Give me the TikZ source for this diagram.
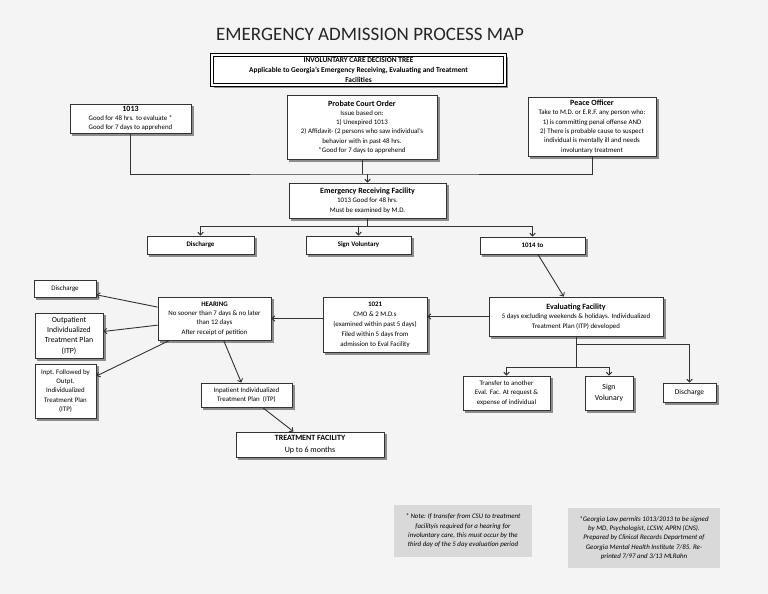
\documentclass[tikz,border=0pt]{standalone}
\usepackage{fontspec}
\setmainfont{Carlito}
\usetikzlibrary{arrows.meta}
\definecolor{pagebg}{HTML}{F4F4F4}
\definecolor{notegray}{HTML}{D9D9D9}
\definecolor{boxline}{HTML}{333333}
\definecolor{shadegray}{HTML}{8C8C8C}
\pgfdeclarelayer{paper}
\pgfdeclarelayer{shade}
\pgfsetlayers{paper,shade,main}
\newcommand{\boxtxt}{\fontsize{6.9}{9.3}\selectfont}
\newcommand{\boxhead}{\fontsize{8}{9.3}\selectfont\bfseries}
\begin{document}
\begin{tikzpicture}[x=1pt,y=-1pt,
  box/.style={draw=boxline, line width=0.9pt, fill=white, align=center, inner sep=1pt, font=\boxtxt},
  note/.style={fill=notegray, align=center, inner sep=1pt, font=\boxtxt\itshape},
  link/.style={draw=boxline, line width=0.9pt},
  arr/.style={link, -{Straight Barb[length=2.8pt,width=5.5pt]}}]
%% The page is a light grey sheet, the same size as the reference
  \begin{pgfonlayer}{paper}
    \fill[pagebg] (0,0) rectangle (768,594);
  \end{pgfonlayer}
  \useasboundingbox (0,0) rectangle (768,594);
%% Title and the framed heading under it
  \node[text=black!85] (title) at (370,34) {\fontsize{19}{22}\selectfont EMERGENCY ADMISSION PROCESS MAP};
  \node[box, draw=black, line width=0.8pt, double=white, double distance=1.6pt, minimum width=293pt, minimum height=30pt,
    font=\fontsize{7.4}{10.2}\selectfont\bfseries] (tree) at (358.5,70)
    {INVOLUNTARY CARE DECISION TREE\\Applicable to Georgia’s Emergency Receiving, Evaluating and Treatment\\Facilities};
%% The three ways in
  \node[box, minimum width=121pt, minimum height=29pt] (n1013) at (130.5,118.5)
    {{\boxhead 1013}\\Good for 48 hrs. to evaluate *\\Good for 7 days to apprehend};
  \node[box, minimum width=150pt, minimum height=64pt] (probate) at (362,127)
    {{\boxhead Probate Court Order}\\Issue based on:\\1) Unexpired 1013\\2) Affidavit- (2 persons who saw individual’s\\behavior with in past 48 hrs.\\*Good for 7 days to apprehend};
  \node[box, minimum width=128pt, minimum height=59pt] (peace) at (592,126.5)
    {{\boxhead Peace Officer}\\Take to M.D. or E.R.F. any person who:\\1) is committing penal offense AND\\2) There is probable cause to suspect\\individual is mentally ill and needs\\involuntary treatment};
%% Emergency receiving facility and its three outcomes
  \node[box, minimum width=157pt, minimum height=35pt] (erf) at (367.5,200.5)
    {{\boxhead Emergency Receiving Facility}\\1013 Good for 48 hrs.\\Must be examined by M.D.};
  \node[box, minimum width=107pt, minimum height=18pt] (disch1) at (200.5,245) {\textbf{Discharge}};
  \node[box, minimum width=105pt, minimum height=18pt] (signv) at (358.5,245) {\textbf{Sign Voluntary}};
  \node[box, minimum width=105pt, minimum height=17pt] (n1014) at (532.5,245.5) {\textbf{1014 to}};
%% Evaluating facility, petition and hearing
  \node[box, minimum width=174pt, minimum height=39pt] (eval) at (576,316.5)
    {{\boxhead Evaluating Facility}\\5 days excluding weekends \& holidays. Individualized\\Treatment Plan (ITP) developed};
  \node[box, minimum width=104pt, minimum height=55pt, font=\fontsize{6.9}{10}\selectfont] (n1021) at (375,324.5)
    {\textbf{1021}\\CMO \& 2 M.D.s\\(examined within past 5 days)\\Filed within 5 days from\\admission to Eval Facility};
  \node[box, minimum width=113pt, minimum height=43pt] (hearing) at (214.5,318.5)
    {\textbf{HEARING}\\No sooner than 7 days \& no later\\than 12 days\\After receipt of petition};
%% Results of the hearing
  \node[box, minimum width=62pt, minimum height=17pt] (disch2) at (65,288.5) {Discharge};
  \node[box, minimum width=68pt, minimum height=45pt, font=\fontsize{7.8}{10.3}\selectfont] (outp) at (69,335.5)
    {Outpatient\\Individualized\\Treatment Plan\\(ITP)};
  \node[box, minimum width=61pt, minimum height=54pt] (inptf) at (65.5,391)
    {Inpt. Followed by\\Outpt.\\Individualized\\Treatment Plan\\(ITP)};
  \node[box, minimum width=91pt, minimum height=24pt] (inpitp) at (246.5,395)
    {Inpatient Individualized\\Treatment Plan~~(ITP)};
  \node[box, minimum width=148pt, minimum height=25pt, font=\fontsize{8}{12.5}\selectfont] (treat) at (310,444.5)
    {\textbf{TREATMENT FACILITY}\\Up to 6 months};
%% Results of the evaluation
  \node[box, minimum width=87pt, minimum height=34pt] (transfer) at (506.5,393)
    {Transfer to another\\Eval. Fac. At request \&\\expense of individual};
  \node[box, minimum width=48pt, minimum height=34pt, font=\fontsize{7.8}{10.3}\selectfont] (signv2) at (609,393)
    {Sign\\Volunary};
  \node[box, minimum width=53pt, minimum height=19pt, font=\fontsize{7.4}{9.3}\selectfont] (disch3) at (689.5,392.5) {Discharge};
%% Grey notes at the foot of the page
  \node[note, minimum width=138pt, minimum height=52pt] (note1) at (463,531)
    {* Note: If transfer from CSU to treatment\\facilityis required for a hearing for\\involuntary care, this must occur by the\\third day of the 5 day evaluation period};
  \node[note, minimum width=152pt, minimum height=60pt] (note2) at (644,538)
    {*Georgia Law permits 1013/2013 to be signed\\by MD, Psychologist, LCSW, APRN (CNS).\\Prepared by Clinical Records Department of\\Georgia Mental Health Institute 7/85. Re-\\printed 7/97 and 3/13 MLRahn};
%% Soft shadow behind every white box
  \begin{pgfonlayer}{shade}
    \foreach \b in {tree,n1013,probate,peace,erf,disch1,signv,n1014,eval,n1021,hearing,
        disch2,outp,inptf,inpitp,treat,transfer,signv2,disch3}
      \fill[shadegray] ([xshift=2.2pt,yshift=-2.2pt]\b.south west) rectangle ([xshift=2.2pt,yshift=-2.2pt]\b.north east);
  \end{pgfonlayer}
%% Connectors
  \coordinate (bus1) at (367.5,174);
  \coordinate (bus2) at (367.5,226);
  \coordinate (bus3) at (576,367);
  \coordinate (branch) at (576,344);
  \draw[link] (n1013.south) |- (bus1) -| (peace.south);
  \draw[link] (probate.south) -- (probate.south |- bus1);
  \draw[arr] (bus1) -- (erf.north);
  \draw[link] (erf.south) -- (bus2);
  \draw[arr] (bus2) -| (disch1.north);
  \draw[arr] (bus2) -| (n1014.north);
  \draw[arr] (signv.north |- bus2) -- (signv.north);
  \draw[arr] (n1014) -- (eval);
  \draw[arr] (eval.west) -- (eval.west -| n1021.east);
  \draw[arr] (n1021.west |- hearing.east) -- (hearing.east);
  \draw[arr] (hearing) -- (disch2);
  \draw[arr] (hearing) -- (outp);
  \draw[arr] (hearing) -- (inptf);
  \draw[arr] (hearing) -- (inpitp);
  \draw[arr] (inpitp) -- (treat);
  \draw[link] (eval.south) -- (bus3);
  \draw[arr] (bus3) -| (transfer.north);
  \draw[arr] (bus3) -| (signv2.north);
  \draw[arr] (branch) -| (disch3.north);
\end{tikzpicture}
\end{document}
